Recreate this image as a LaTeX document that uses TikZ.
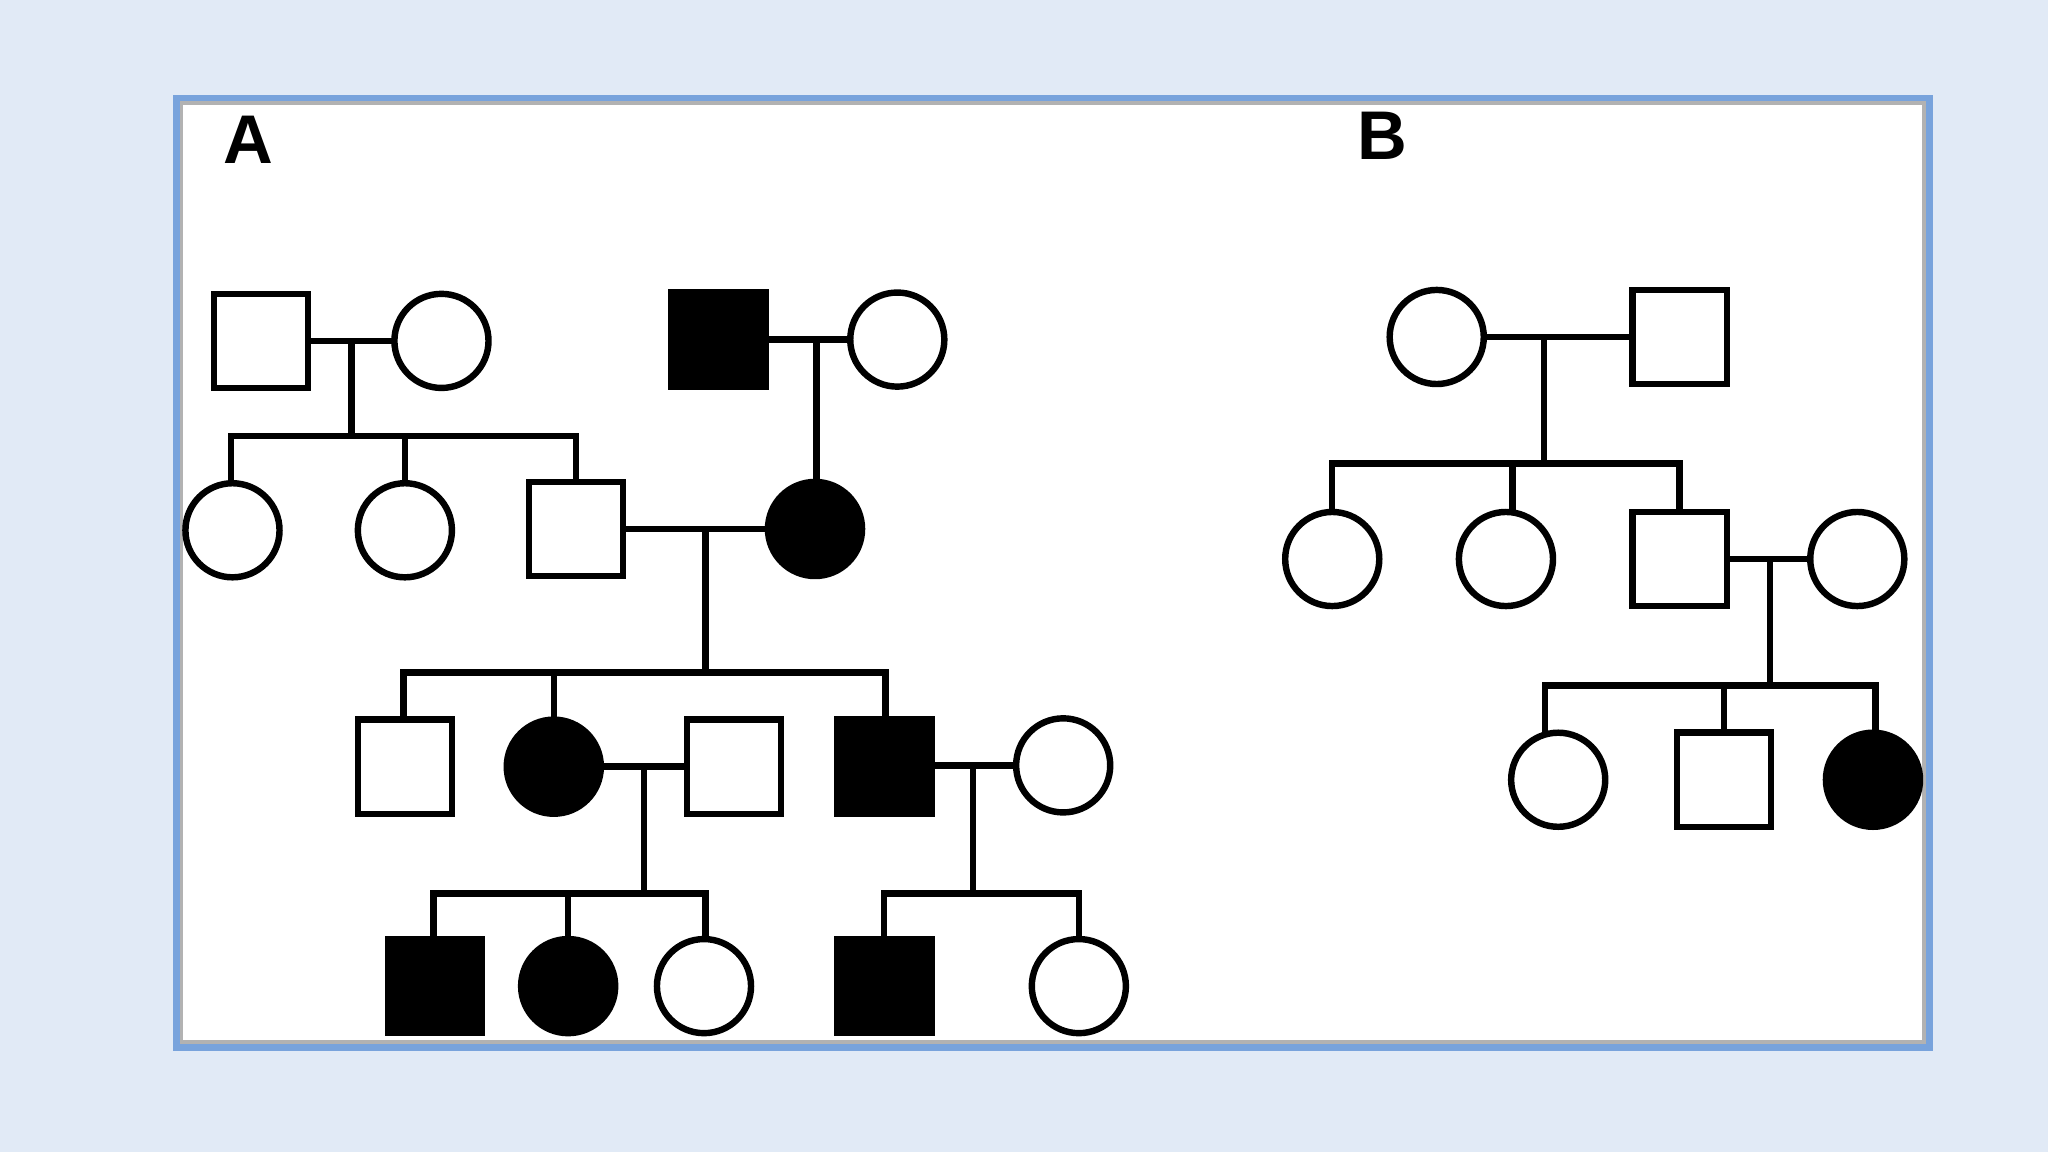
\documentclass[tikz,border=0pt]{standalone}
\usepackage{fontspec}
\setmainfont{Liberation Sans}
\begin{document}
\begin{tikzpicture}[x=0.01cm,y=-0.01cm,line width=1.4pt,
  sq/.style={draw,rectangle,minimum size=0.72cm,inner sep=0pt,fill=white},
  sqa/.style={sq,fill=black},
  ci/.style={draw,circle,minimum size=0.72cm,inner sep=0pt,fill=white},
  cia/.style={ci,fill=black},
  lab/.style={font=\bfseries\fontsize{15}{15}\selectfont}]
\useasboundingbox (0,0) rectangle (1568,882);
\fill[fill={rgb,255:red,225;green,234;blue,246}] (0,0) rectangle (1568,882);
\draw[draw={rgb,255:red,120;green,163;blue,220},line width=1.5pt,fill=white] (135,75) rectangle (1477,802);
\draw[draw=gray!60,line width=0.8pt] (139,79) rectangle (1473,798);
\node[lab] (LA) at (190,107) {A};
\node[lab] (LB) at (1058,104) {B};
% Pedigree A
\coordinate (m1) at (269,261); \coordinate (s1) at (269,334);
\coordinate (m2) at (625,260);
\coordinate (m3) at (540,405); \coordinate (s3) at (540,515);
\coordinate (m4) at (493,587); \coordinate (s4) at (493,684);
\coordinate (m5) at (745,586); \coordinate (s5) at (745,684);
\draw (200,261) -- (338,261); \draw (550,260) -- (687,260);
\draw (m1) -- (s1); \draw (177,368) -- (177,334) -- (441,334) -- (441,368); \draw (310,334) -- (310,368);
\draw (m2) -- (625,370);
\draw (441,405) -- (624,405); \draw (m3) -- (s3);
\draw (309,587) -- (309,515) -- (678,515) -- (678,587); \draw (424,515) -- (424,587);
\draw (424,587) -- (562,587); \draw (m4) -- (s4);
\draw (332,755) -- (332,684) -- (540,684) -- (540,755); \draw (435,684) -- (435,755);
\draw (677,586) -- (814,586); \draw (m5) -- (s5);
\draw (677,755) -- (677,684) -- (826,684) -- (826,755);
\node[sq] (a1) at (200,261) {}; \node[ci] (a2) at (338,261) {};
\node[sqa] (a3) at (550,260) {}; \node[ci] (a4) at (687,260) {};
\node[ci] (b1) at (178,406) {}; \node[ci] (b2) at (310,406) {};
\node[sq] (b3) at (441,405) {}; \node[cia] (b4) at (624,405) {};
\node[sq] (c1) at (310,587) {}; \node[cia] (c2) at (424,587) {};
\node[sq] (c3) at (562,587) {}; \node[sqa] (c4) at (677,587) {};
\node[ci] (c5) at (814,586) {};
\node[sqa] (d1) at (333,755) {}; \node[cia] (d2) at (435,755) {};
\node[ci] (d3) at (539,755) {}; \node[sqa] (d4) at (677,755) {};
\node[ci] (d5) at (826,755) {};
% Pedigree B
\coordinate (n1) at (1182,258); \coordinate (t1) at (1182,355);
\coordinate (n2) at (1355,428); \coordinate (t2) at (1355,525);
\draw (1100,258) -- (1286,258); \draw (n1) -- (t1);
\draw (1020,428) -- (1020,355) -- (1286,355) -- (1286,428); \draw (1158,355) -- (1158,428);
\draw (1286,428) -- (1422,428); \draw (n2) -- (t2);
\draw (1183,597) -- (1183,525) -- (1436,525) -- (1436,597); \draw (1320,525) -- (1320,597);
\node[ci] (e1) at (1100,258) {}; \node[sq] (e2) at (1286,258) {};
\node[ci] (f1) at (1020,428) {}; \node[ci] (f2) at (1153,428) {};
\node[sq] (f3) at (1286,428) {}; \node[ci] (f4) at (1422,428) {};
\node[ci] (g1) at (1193,597) {}; \node[sq] (g2) at (1320,597) {};
\node[cia] (g3) at (1434,597) {};
\end{tikzpicture}
\end{document}
